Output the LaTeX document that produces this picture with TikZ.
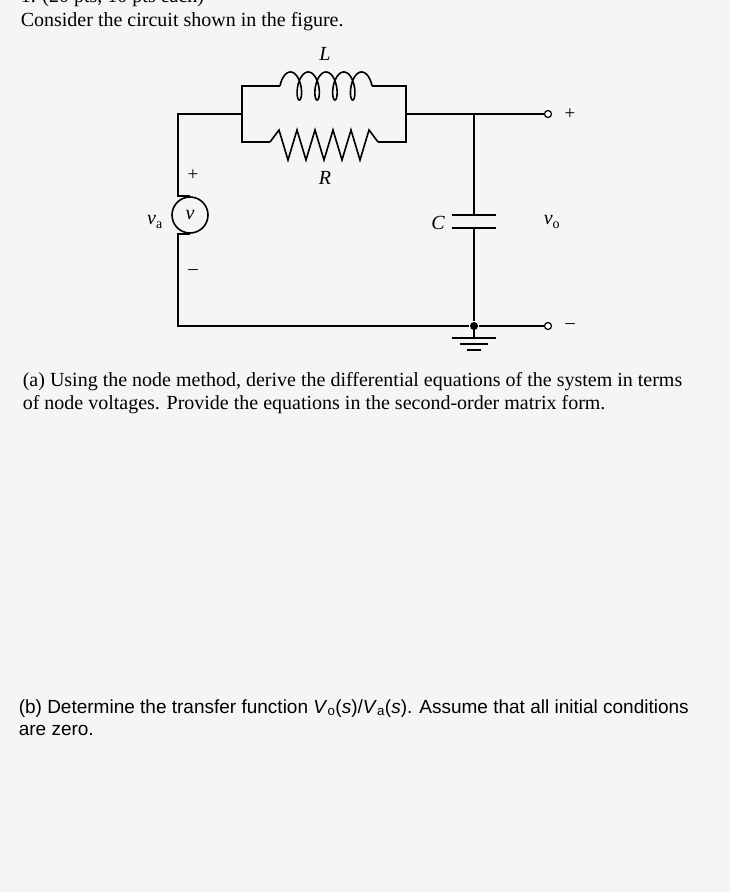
\documentclass[tikz,border=0pt]{standalone}
\usepackage{fontspec}
\setmainfont{Liberation Serif}
\setsansfont{Liberation Sans}
\begin{document}
\begin{tikzpicture}[x=1pt,y=-1pt,line width=1.6pt,
 txt/.style={anchor=base west,inner sep=0,font=\fontsize{20}{24}\selectfont},
 lbl/.style={inner sep=0,font=\fontsize{19}{22}\selectfont},
 ilbl/.style={inner sep=0,font=\fontsize{20}{24}\selectfont\itshape},
 term/.style={circle,draw,fill=white,inner sep=0,minimum size=7pt,line width=1.2pt},
 dotn/.style={circle,fill,inner sep=0,minimum size=8pt}]
\fill[gray!8] (0,0) rectangle (730,892);
\useasboundingbox (0,0) rectangle (730,892);
\clip (0,0) rectangle (730,892);
\node[txt] (hdr) at (20,2) {1. (20 pts, 10 pts each)};
\node[txt] (t1) at (20,26) {Consider the circuit shown in the figure.};
\coordinate (tl) at (178,114);
\coordinate (bl) at (178,326);
\coordinate (pl) at (242,114);
\coordinate (pr) at (406,114);
\coordinate (j) at (474,114);
\node[term] (op) at (548,114) {};
\node[term] (om) at (548,326) {};
\node[dotn] (g) at (474,326) {};
\node[circle,draw,minimum size=36pt,inner sep=0] (src) at (190,215) {};
\node[ilbl] at (src) {v};
\node[ilbl] (va) at (155,222) {v\textsubscript{\upshape a}};
\node[lbl] at (193,175) {+};
\node[lbl] at (193,272) {--};
\draw (src.north) -- (src.north -| tl) |- (pl);
\draw (src.south) -- (src.south -| bl) -- (bl) -- (g) -- (om);
\draw (pl) -- (242,86) -- (280,86);
\draw (pl) -- (242,142) -- (270,142);
\draw (pr) -- (406,86) -- (372,86);
\draw (pr) -- (406,142) -- (378,142);
\draw (pr) -- (j) -- (op);
% inductor
\draw plot[domain=90:1710,samples=400,smooth] ({286+2.83*(\x-90)*pi/180-6*sin(\x)},{86+14*cos(\x)});
\node[ilbl] (L) at (325,54) {L};
% resistor
\draw (270,142) -- (279,130) -- (288,160) -- (297,130) -- (306,160) -- (315,130) -- (324,160) -- (333,130) -- (342,160) -- (351,130) -- (360,160) -- (369,130) -- (378,142);
\node[ilbl] (R) at (325,178) {R};
% capacitor
\draw (j) -- (474,215);
\draw (452,215) -- (496,215);
\draw (452,228) -- (496,228);
\draw (474,228) -- (g);
\node[ilbl] (C) at (438,223) {C};
% ground
\draw (474,326) -- (474,338);
\draw (452,338) -- (496,338);
\draw (460,344) -- (488,344);
\draw (467,350) -- (481,350);
\node[lbl] at (570,114) {+};
\node[lbl] at (570,326) {--};
\node[ilbl] (vo) at (552,222) {v\textsubscript{\upshape o}};
\node[txt] (a1) at (22,386) {(a) Using the node method, derive the differential equations of the system in terms};
\node[txt] (a2) at (22,409) {of node voltages. Provide the equations in the second-order matrix form.};
\node[txt,font=\fontsize{19}{22}\selectfont\sffamily] (b1) at (18,713) {(b) Determine the transfer function \textit{V}\textsubscript{o}(\textit{s})/\textit{V}\textsubscript{a}(\textit{s}). Assume that all initial conditions};
\node[txt,font=\fontsize{19}{22}\selectfont\sffamily] (b2) at (18,735) {are zero.};
\end{tikzpicture}
\end{document}
